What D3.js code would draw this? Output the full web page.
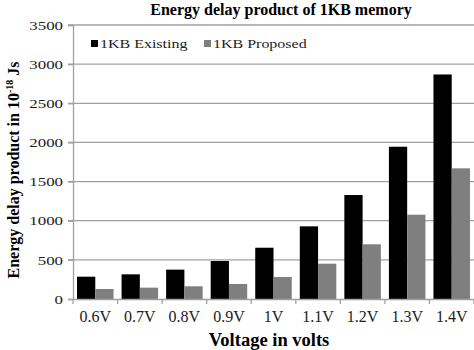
<!DOCTYPE html>
<html><head><meta charset="utf-8">
<script src="https://cdn.jsdelivr.net/npm/d3@7"></script>
<style>body{margin:0;background:#fff}svg{display:block}svg text{font-family:"Liberation Serif","Times New Roman",serif}</style>
</head><body>
<svg id="c" width="474" height="350"></svg>
<script>
const categories = ["0.6V","0.7V","0.8V","0.9V","1V","1.1V","1.2V","1.3V","1.4V"];
const existing = [285,315,375,485,655,928,1328,1945,2868];
const proposed = [128,145,162,192,281,451,699,1077,1669];
const seriesNames = ["1KB Existing","1KB Proposed"];
const yTicks = [0,500,1000,1500,2000,2500,3000,3500];

const svg = d3.select("#c");
const font = "Liberation Serif, Times New Roman, serif";
const m = {l:73, r:474, t:25, b:299};
const x = d3.scaleBand().domain(categories).range([m.l, m.r]).paddingInner(0).paddingOuter(0);
const xs = d3.scaleBand().domain([0,1]).range([0, x.bandwidth()]).paddingInner(0).paddingOuter(0.22);
const y = d3.scaleLinear().domain([0,3500]).range([m.b, m.t]);
const grid = "#a0a0a0";

// gridlines
svg.append("g").selectAll("line").data(yTicks.filter(d=>d>0)).join("line")
  .attr("x1", m.l-5).attr("x2", m.r).attr("y1", d=>y(d)).attr("y2", d=>y(d))
  .attr("stroke", grid).attr("stroke-width", 1.3);

// y axis
const sy = 1.3;
const ya = svg.append("g").attr("transform", `translate(${m.l},0)`)
  .call(d3.axisLeft(y).tickValues(yTicks).tickFormat(d3.format("d")).tickSize(5).tickPadding(5))
  .attr("font-family", font);
ya.select(".domain").attr("stroke",grid).attr("stroke-width",1.3);
ya.selectAll(".tick line").attr("stroke",grid).attr("stroke-width",1.3);
ya.selectAll("text").style("font-family", font).attr("font-size", 13).attr("fill","#222")
  .attr("x", -10/sy).attr("transform", `scale(${sy},1)`);

// bars
const data = categories.map((c,i)=>({c, v:[existing[i], proposed[i]]}));
const colors = ["#000000","#7f7f7f"];
const g = svg.append("g").selectAll("g").data(data).join("g")
  .attr("transform", d=>`translate(${x(d.c)},0)`);
g.selectAll("rect").data(d=>d.v.map((v,k)=>({v,k}))).join("rect")
  .attr("x", d=>xs(d.k)).attr("width", xs.bandwidth())
  .attr("y", d=>y(d.v)).attr("height", d=>y(0)-y(d.v))
  .attr("fill", d=>colors[d.k]);

// x axis
const xa = svg.append("g").attr("transform", `translate(0,${m.b})`)
  .call(d3.axisBottom(x).tickSize(0).tickPadding(12))
  .attr("font-family", font);
xa.select(".domain").attr("stroke",grid).attr("stroke-width",1.3);
xa.selectAll("text").style("font-family", font).attr("font-size", 16).attr("fill","#222");
svg.append("g").selectAll("line").data(categories.concat(["end"])).join("line")
  .attr("x1", (d,i)=>m.l + i*x.step()).attr("x2", (d,i)=>m.l + i*x.step())
  .attr("y1", m.b).attr("y2", m.b+5).attr("stroke",grid).attr("stroke-width",1.3);

// title
svg.append("text").attr("x", 281).attr("y", 15).attr("text-anchor","middle")
  .style("font-family", font).attr("font-weight","bold").attr("font-size", 16)
  .text("Energy delay product of 1KB memory");

// x label
svg.append("text").attr("x", 269).attr("y", 346).attr("text-anchor","middle")
  .style("font-family", font).attr("font-weight","bold").attr("font-size", 18.5)
  .text("Voltage in volts");

// y label
const yl = svg.append("text").attr("transform","translate(19,170) rotate(-90)").attr("text-anchor","middle")
  .style("font-family", font).attr("font-weight","bold").attr("font-size", 16);
yl.append("tspan").text("Energy delay product in 10");
yl.append("tspan").attr("font-size", 10).attr("dy", -6).text("-18");
yl.append("tspan").attr("dy", 6).text(" Js");

// legend
const sl = 1.23;
const lg = svg.append("g").selectAll("g").data(seriesNames).join("g")
  .attr("transform", (d,i)=>`translate(${i===0?91:204},40)`);
lg.append("rect").attr("width",7).attr("height",7).attr("fill",(d,i)=>colors[i]);
lg.append("text").attr("x",9/sl).attr("y",8).attr("transform",`scale(${sl},1)`)
  .style("font-family",font).attr("font-size",13).attr("fill","#222").text(d=>d);
</script>
</body></html>
